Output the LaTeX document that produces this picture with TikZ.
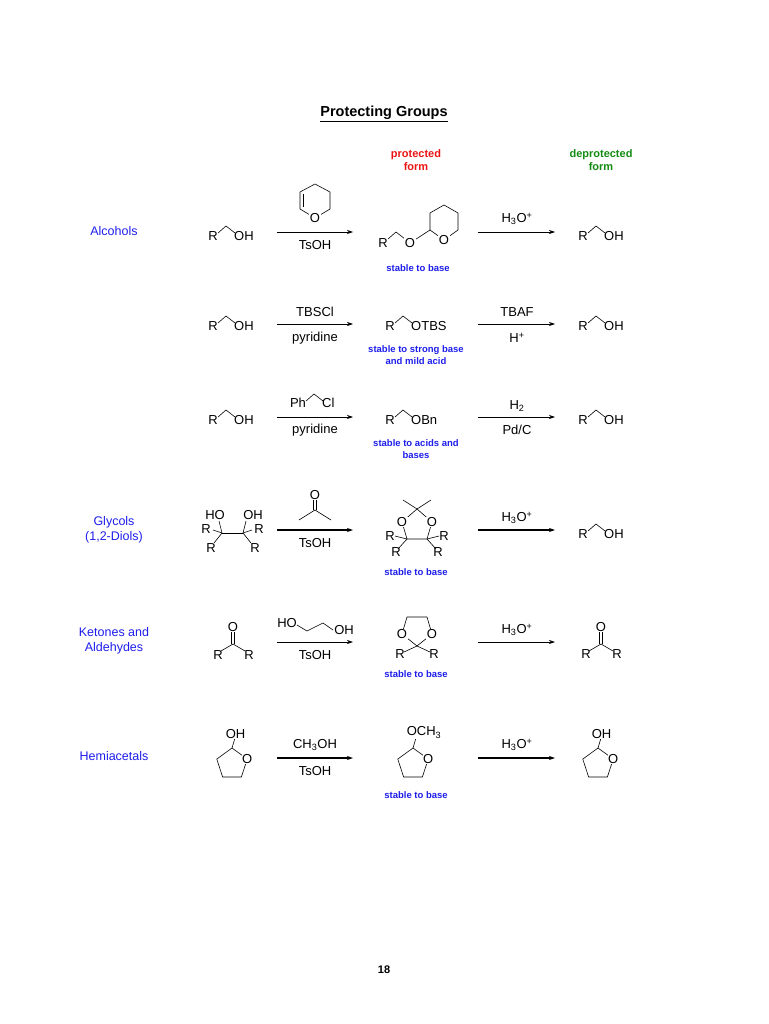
\documentclass[tikz,border=0pt]{standalone}
\usepackage{fontspec}
\setmainfont{Liberation Sans}
\usetikzlibrary{arrows.meta}
\definecolor{lblue}{RGB}{30,30,235}
\definecolor{lred}{RGB}{235,20,20}
\definecolor{lgreen}{RGB}{20,140,20}
\tikzset{
  lab/.style={inner sep=0pt,font=\fontsize{13}{14}\selectfont},
  atom/.style={inner sep=0.6pt,fill=white,font=\fontsize{13}{14}\selectfont},
  bond/.style={line width=0.6pt},
  rxn/.style={line width=0.7pt,-{Stealth[length=6pt,width=4pt]}},
  rxnb/.style={line width=1.3pt,-{Stealth[length=6pt,width=4pt]}},
  note/.style={inner sep=0pt,text=lblue,font=\bfseries\fontsize{9.5}{12}\selectfont,align=center},
  catlab/.style={inner sep=0pt,text=lblue,font=\fontsize{12.5}{15}\selectfont,align=center},
}
\newcommand\myRchain[3]{%
  \node[lab] at (#1,#2) {R};
  \draw[bond] ([shift={(5,-3)}]#1,#2)--([shift={(13,-10)}]#1,#2)--([shift={(22,-3)}]#1,#2);
  \node[lab,anchor=west] at ([shift={(21,0)}]#1,#2) {#3};}
\newcommand\myThf[3]{%
  \draw[bond] ([shift={(-90:16)}]#1,#2)--([shift={(-18:16)}]#1,#2)--([shift={(54:16)}]#1,#2)--([shift={(126:16)}]#1,#2)--([shift={(198:16)}]#1,#2)--cycle;
  \draw[bond] ([shift={(-90:16)}]#1,#2)--([shift={(3,-26)}]#1,#2);
  \node[atom] at ([shift={(-18:16)}]#1,#2) {O};
  \node[atom,anchor=south west] at ([shift={(-7,-25)}]#1,#2) {#3};}
\begin{document}
\begin{tikzpicture}[x=1pt,y=-1pt]
\useasboundingbox (0,0) rectangle (768,1024);
\node[inner sep=0pt,font=\bfseries\fontsize{14.5}{16}\selectfont] (title) at (384,114) {\underline{Protecting Groups}};
\node[inner sep=0pt,text=lred,font=\bfseries\fontsize{11}{13}\selectfont,align=center] (pf) at (416,160) {protected\\form};
\node[inner sep=0pt,text=lgreen,font=\bfseries\fontsize{11}{13}\selectfont,align=center] (df) at (601,160) {deprotected\\form};
\node[catlab] (c1) at (114,231) {Alcohols};
\node[catlab] (c2) at (114,530) {Glycols\\(1,2-Diols)};
\node[catlab] (c3) at (114,641) {Ketones and\\Aldehydes};
\node[catlab] (c4) at (114,756) {Hemiacetals};
\node[inner sep=0pt,font=\bfseries\fontsize{11}{12}\selectfont] (pg) at (384,970) {18};

\myRchain{213}{236}{OH}
\draw[rxn] (277,232)--(353,232);
\node[lab] at (315,245) {TsOH};
\draw[bond] (315,184)--(330,192)--(330,209)--(315,218)--(300,209)--(300,192)--cycle;
\draw[bond] (303.5,194)--(303.5,207);
\node[atom] at (315,218) {O};
\node[lab] at (383,243) {R};
\draw[bond] (388,239)--(396,232)--(405,239);
\draw[bond] (410,243)--(430,230);
\draw[bond] (430,230)--(430,213)--(444,205)--(458,213)--(458,230)--(444,240)--cycle;
\node[atom] at (410,243) {O};
\node[atom] at (444,240) {O};
\node[note] at (418,268) {stable to base};
\draw[rxn] (478,232)--(555,232);
\node[lab] at (517,219) {H\textsubscript{3}O\textsuperscript{+}};
\myRchain{583}{236}{OH}

\myRchain{213}{326}{OH}
\draw[rxn] (277,324)--(353,324);
\node[lab] at (315,312) {TBSCl};
\node[lab] at (315,338) {pyridine};
\myRchain{390}{326}{OTBS}
\node[note] at (416,355) {stable to strong base\\and mild acid};
\draw[rxn] (478,324)--(555,324);
\node[lab] at (517,312) {TBAF};
\node[lab] at (517,338) {H\textsuperscript{+}};
\myRchain{583}{326}{OH}

\myRchain{213}{420}{OH}
\draw[rxn] (277,417)--(353,417);
\node[lab] at (298,403) {Ph};
\draw[bond] (306,401)--(314,394)--(323,401);
\node[lab,anchor=west] at (322,403) {Cl};
\node[lab] at (315,430) {pyridine};
\myRchain{390}{420}{OBn}
\node[note] at (416,449) {stable to acids and\\bases};
\draw[rxn] (478,417)--(555,417);
\node[lab] at (517,406) {H\textsubscript{2}};
\node[lab] at (517,430) {Pd/C};
\myRchain{583}{420}{OH}

\draw[bond] (222,533)--(243,533);
\draw[bond] (222,533)--(219,521); \draw[bond] (243,533)--(246,521);
\draw[bond] (222,533)--(213,530); \draw[bond] (243,533)--(252,530);
\draw[bond] (222,533)--(214,543); \draw[bond] (243,533)--(251,543);
\node[lab] at (215,515) {HO}; \node[lab] at (253,515) {OH};
\node[lab] at (206,529) {R}; \node[lab] at (259,529) {R};
\node[lab] at (211,548) {R}; \node[lab] at (255,548) {R};
\draw[rxnb] (277,530)--(353,530);
\draw[bond] (313.5,500)--(313.5,510); \draw[bond] (316.5,500)--(316.5,510);
\draw[bond] (299,520)--(315,510)--(331,520);
\node[atom] at (315,495) {O};
\node[lab] at (315,543) {TsOH};
\draw[bond] (403,500)--(417,509)--(431,500);
\draw[bond] (417,509)--(402,522)--(407,539)--(427,539)--(432,522)--cycle;
\draw[bond] (407,539)--(395,536); \draw[bond] (407,539)--(398,549);
\draw[bond] (427,539)--(439,536); \draw[bond] (427,539)--(436,549);
\node[atom] at (402,522) {O}; \node[atom] at (432,522) {O};
\node[lab] at (390,536) {R}; \node[lab] at (396,552) {R};
\node[lab] at (444,536) {R}; \node[lab] at (438,552) {R};
\node[note] at (416,572) {stable to base};
\draw[rxnb] (478,530)--(555,530);
\node[lab] at (517,518) {H\textsubscript{3}O\textsuperscript{+}};
\myRchain{583}{534}{OH}

\draw[bond] (231.5,631)--(231.5,644); \draw[bond] (234.5,631)--(234.5,644);
\draw[bond] (221,651)--(233,644)--(245,651);
\node[atom] at (233,627) {O};
\node[lab] at (218,655) {R}; \node[lab] at (249,655) {R};
\draw[rxn] (277,642)--(353,642);
\node[lab] at (287,623) {HO};
\draw[bond] (297,625)--(307,631)--(323,623)--(333,630);
\node[lab] at (344,630) {OH};
\node[lab] at (315,655) {TsOH};
\draw[bond] (417,646)--(402,634)--(407,617)--(427,617)--(432,634)--cycle;
\draw[bond] (404,652)--(417,646)--(430,652);
\node[atom] at (402,634) {O}; \node[atom] at (432,634) {O};
\node[lab] at (400,654) {R}; \node[lab] at (434,654) {R};
\node[note] at (416,674) {stable to base};
\draw[rxn] (478,642)--(555,642);
\node[lab] at (517,630) {H\textsubscript{3}O\textsuperscript{+}};
\draw[bond] (599.5,631)--(599.5,644); \draw[bond] (602.5,631)--(602.5,644);
\draw[bond] (589,651)--(601,644)--(613,651);
\node[atom] at (601,627) {O};
\node[lab] at (586,654) {R}; \node[lab] at (617,654) {R};

\myThf{232}{764}{OH}
\draw[rxnb] (277,758)--(353,758);
\node[lab] at (315,745) {CH\textsubscript{3}OH};
\node[lab] at (315,771) {TsOH};
\myThf{413}{764}{OCH\textsubscript{3}}
\node[note] at (416,795) {stable to base};
\draw[rxnb] (478,758)--(555,758);
\node[lab] at (517,745) {H\textsubscript{3}O\textsuperscript{+}};
\myThf{598}{764}{OH}
\end{tikzpicture}
\end{document}
